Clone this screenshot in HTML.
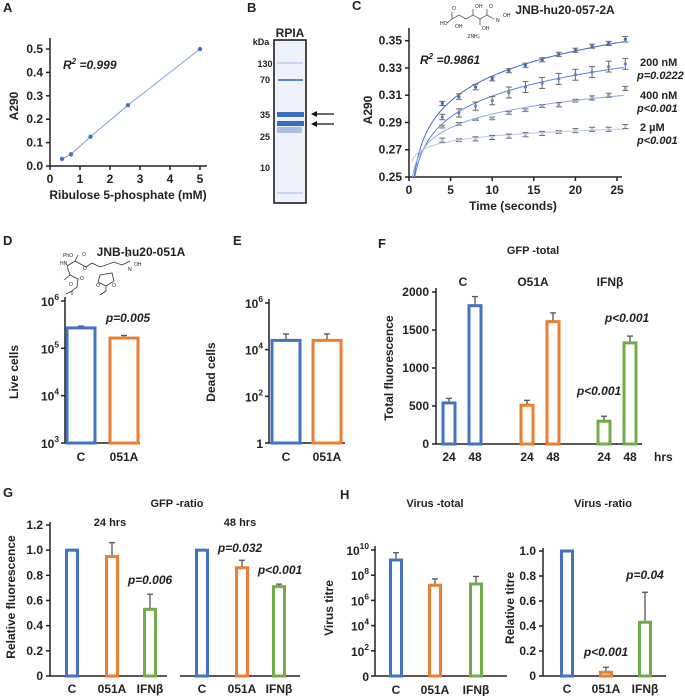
<!DOCTYPE html>
<html><head><meta charset="utf-8">
<style>
html,body{margin:0;padding:0;background:#fff;}
svg{display:block;font-family:"Liberation Sans",Arial,sans-serif;font-weight:bold;}
text{fill:#222;}
</style></head>
<body>
<svg id="fig" width="685" height="696" viewBox="0 0 685 696" xmlns="http://www.w3.org/2000/svg"></svg>
<script>
// ---------- DATA ----------
// Panel A
const aX = [0.4, 0.7, 1.35, 2.6, 5];
const aY = [0.03, 0.05, 0.125, 0.26, 0.5];
const aXTicks = [0,1,2,3,4,5];
const aYTicks = [0,0.1,0.2,0.3,0.4,0.5];
// Panel C
const cTimes = [4,6,8,10,12,14,16,18,20,22,24,26];
const cControl = [0.304,0.309,0.316,0.322,0.328,0.332,0.336,0.340,0.343,0.346,0.348,0.351];
const c200 = [0.294,0.297,0.302,0.306,0.312,0.316,0.319,0.322,0.325,0.327,0.331,0.333];
const c400 = [0.287,0.289,0.292,0.293,0.297,0.299,0.302,0.303,0.306,0.308,0.310,0.315];
const c2u = [0.277,0.277,0.278,0.279,0.280,0.281,0.282,0.283,0.284,0.285,0.285,0.287];
const cErrControl = [0.0015,0.002,0.002,0.0015,0.0015,0.0015,0.0015,0.0015,0.0015,0.0015,0.0015,0.002];
const cErr200 = [0.002,0.003,0.003,0.003,0.004,0.004,0.004,0.004,0.004,0.004,0.004,0.004];
const cErr400 = [0.001,0.001,0.0005,0.001,0.001,0.001,0.001,0.0015,0.001,0.0015,0.0015,0.0015];
const cErr2u = [0.0015,0.001,0.0015,0.0015,0.0015,0.0015,0.0015,0.001,0.0015,0.0015,0.0015,0.0015];
const cXTicks = [0,5,10,15,20,25];
const cYTicks = [0.25,0.27,0.29,0.31,0.33,0.35];
// Panel D
const dCats = ['C','051A'];
const dVals = [2.7e5, 1.65e5];
const dErr = [0.25e5, 0.22e5];
// Panel E
const eCats = ['C','051A'];
const eVals = [2.5e4, 2.5e4];
const eErr = [2.2e4, 2.2e4];
// Panel F
const fGroups = ['C','O51A','IFNβ'];
const fTimes = ['24','48'];
const fVals = [540,1820,510,1610,300,1330];
const fErr = [60,120,65,115,65,90];
const fYTicks = [0,500,1000,1500,2000];
// Panel G
const gCats = ['C','051A','IFNβ'];
const g24 = [1.0,0.95,0.53];
const g24Err = [0,0.11,0.12];
const g48 = [1.0,0.86,0.71];
const g48Err = [0,0.06,0.02];
const gYTicks = [0,0.2,0.4,0.6,0.8,1.0,1.2];
// Panel H
const hCats = ['C','051A','IFNβ'];
const hTotal = [1.6e9,1.6e7,2e7];
const hTotalErr = [4.5e9,3.5e7,6e7];
const hRatio = [1.0,0.03,0.43];
const hRatioErr = [0,0.04,0.24];
const hRatioTicks = [0,0.2,0.4,0.6,0.8,1.0];

const BLUE='#4472C4', ORANGE='#ED7D31', GREEN='#70AD47', GRAY='#555';
const svg = document.getElementById('fig');
const NS='http://www.w3.org/2000/svg';
function mk(tag, attrs, name, parent){
  const e=document.createElementNS(NS,tag);
  for(const k in attrs) e.setAttribute(k,attrs[k]);
  
  
  (parent||svg).appendChild(e);
  return e;
}
function txt(x,y,s,name,opt){
  opt=opt||{};
  const t=mk('text',{x:x,y:y,'font-size':opt.size||12,'text-anchor':opt.anchor||'middle','font-style':opt.italic?'italic':'normal','font-weight':opt.weight||'bold'},name,opt.parent);
  if(opt.rot) t.setAttribute('transform','rotate(-90 '+x+' '+y+')');
  if(opt.sup){t.textContent=s; const ts=mk('tspan',{dy:-6,'font-size':(opt.size||12)*0.7},name+'-exp',t); ts.textContent=opt.sup;}
  else t.textContent=s;
  return t;
}
function line(x1,y1,x2,y2,name,stroke,w){return mk('line',{x1:x1,y1:y1,x2:x2,y2:y2,stroke:stroke||'#222','stroke-width':w||1.5},name);}
function bar(cx,w,ytop,ybase,color,name){
  return mk('rect',{x:cx-w/2,y:ytop,width:w,height:Math.max(0,ybase-ytop),fill:'#fff',stroke:color,'stroke-width':3},name);
}
function errbar(cx,y1,y2,name){
  line(cx,y1,cx,y2,name,GRAY,1.3);
  line(cx-3,y2,cx+3,y2,name+'-cap',GRAY,1.3);
}
function panelLabel(x,y,s){txt(x,y,s,'panel-label-'+s.toLowerCase(),{size:13,anchor:'start'});}

// ---------- PANEL A ----------
panelLabel(3,12,'A');
(function(){
  const X0=50,X1=200,Y0=166,Y1=49;
  const sx=v=>X0+(v/5)*(X1-X0), sy=v=>Y0-(v/0.5)*(Y0-Y1);
  line(X0,Y0,207,Y0,'a-x-axis'); line(X0,Y0,X0,38,'a-y-axis');
  aXTicks.forEach(t=>{line(sx(t),Y0,sx(t),Y0+4,'a-x-tick');txt(sx(t),Y0+17,String(t),'a-x-tick-label',{size:12});});
  aYTicks.forEach(t=>{line(X0-4,sy(t),X0,sy(t),'a-y-tick');txt(X0-7,sy(t)+4,t.toFixed(1),'a-y-tick-label',{size:12,anchor:'end'});});
  let pts=aX.map((x,i)=>sx(x)+','+sy(aY[i])).join(' ');
  mk('polyline',{points:pts,fill:'none',stroke:'#7EA1D8','stroke-width':1},'a-fit-line');
  aX.forEach((x,i)=>mk('circle',{cx:sx(x),cy:sy(aY[i]),r:2.2,fill:BLUE},'a-point'));
  const r=txt(63,69,'R','a-r-squared',{size:12,anchor:'start',italic:true});
  const s1=mk('tspan',{dy:-5,'font-size':8},'a-r-sq-exp',r); s1.textContent='2';
  const s2=mk('tspan',{dy:5},'a-r-sq-val',r); s2.textContent=' =0.999';
  txt(128,199,'Ribulose 5-phosphate (mM)','a-x-axis-title',{size:12});
  txt(18,106,'A290','a-y-axis-title',{size:12,rot:true});
})();

// ---------- PANEL B (gel) ----------
panelLabel(247,12,'B');
(function(){
  txt(290,37,'RPIA','b-lane-title',{size:12});
  txt(261,45,'kDa','b-kda-label',{size:9});
  mk('rect',{x:274,y:40,width:32,height:163,fill:'#EEF3FB',stroke:'#111','stroke-width':1.5},'b-gel');
  [[64,'130'],[80,'70'],[115,'35'],[137,'25'],[168,'10']].forEach(m=>txt(265,m[0]+3,m[1],'b-marker-label',{size:9}));
  mk('rect',{x:277,y:62,width:26,height:2,fill:'#C8D7EF'},'b-band-130');
  mk('rect',{x:278,y:79,width:25,height:2,fill:'#5A86CC'},'b-band-70');
  mk('rect',{x:277,y:112,width:27,height:5,fill:'#3C6CC0'},'b-band-main');
  mk('rect',{x:277,y:121,width:27,height:5,fill:'#3C6CC0'},'b-band-second');
  mk('rect',{x:277,y:127,width:25,height:6,fill:'#A9C0E6'},'b-band-smear');
  mk('rect',{x:277,y:192,width:26,height:2,fill:'#C8D7EF'},'b-band-bottom');
  [114,124].forEach(y=>{line(312,y,334,y,'b-arrow','#111',1.2);mk('path',{d:'M311 '+y+' l6 -3 v6z',fill:'#111'},'b-arrow-head');});
})();

// ---------- PANEL C ----------
panelLabel(352,10,'C');
(function(){
  const X0=409,X1=617,Y0=177,Y1=40.7;
  const sx=v=>X0+(v/25)*(X1-X0), sy=v=>Y0-((v-0.25)/0.1)*(Y0-Y1);
  line(X0,Y0,622,Y0,'c-x-axis'); line(X0,Y0,X0,28,'c-y-axis');
  cXTicks.forEach(t=>{line(sx(t),Y0,sx(t),Y0+4,'c-x-tick');txt(sx(t),Y0+17,String(t),'c-x-tick-label',{size:12});});
  cYTicks.forEach(t=>{line(X0-4,sy(t),X0,sy(t),'c-y-tick');txt(X0-7,sy(t)+4,t.toFixed(2),'c-y-tick-label',{size:12,anchor:'end'});});
  txt(513,210,'Time (seconds)','c-x-axis-title',{size:12});
  txt(372,110,'A290','c-y-axis-title',{size:12,rot:true});
  txt(565,14,'JNB-hu20-057-2A','c-title',{size:12});
  const g=mk('g',{stroke:'#333','stroke-width':0.7,fill:'none'},'c-structure');
  mk('polyline',{points:'452,19 459,15 466,19 473,15 480,19 487,15 494,19'},'c-structure-bond',g);
  line(452,19,452,12,'c-structure-bond','#333',0.7);
  line(452,19,447,23,'c-structure-bond','#333',0.7);
  line(473,15,473,9,'c-structure-bond','#333',0.7);
  line(480,19,480,25,'c-structure-bond','#333',0.7);
  line(487,15,487,9,'c-structure-bond','#333',0.7);
  [['HO',440,25],['OH',455,28],['O',452,10],['OH',475,8],['OH',482,30],['O',489,8],['N',496,22],['OH',503,17]].forEach(a=>txt(a[1],a[2],a[0],'c-structure-atom',{size:5,weight:'normal',anchor:'start'}));
  txt(473,38,'.2NH₃','c-structure-salt',{size:5,weight:'normal'});
  const r=txt(420,64,'R','c-r-squared',{size:12,anchor:'start',italic:true});
  const s1=mk('tspan',{dy:-5,'font-size':8},'c-r-sq-exp',r); s1.textContent='2';
  const s2=mk('tspan',{dy:5},'c-r-sq-val',r); s2.textContent=' =0.9861';
  const series=[[cControl,cErrControl,'#3D6CC0','control'],[c200,cErr200,'#5B86CF','200nm'],[c400,cErr400,'#8FA9DA','400nm'],[c2u,cErr2u,'#B8C8E8','2um']];
  const clip=mk('clipPath',{id:'cclip'},'c-clip');
  mk('rect',{x:X0,y:28,width:220,height:Y0-28},'c-clip-rect',clip);
  series.forEach(s=>{
    const v=s[0],e=s[1];
    const lx=cTimes.map(Math.log); const n=lx.length;
    const mx=lx.reduce((a,b)=>a+b)/n, my=v.reduce((a,b)=>a+b)/n;
    let num=0,den=0; lx.forEach((x,i)=>{num+=(x-mx)*(v[i]-my);den+=(x-mx)*(x-mx);});
    const b=num/den,a=my-b*mx;
    let pts=[]; for(let t=0.3;t<=26.01;t+=0.25) pts.push(sx(t)+','+sy(a+b*Math.log(t)));
    mk('polyline',{points:pts.join(' '),fill:'none',stroke:s[2],'stroke-width':1,'clip-path':'url(#cclip)'},'c-fit-'+s[3]);
    cTimes.forEach((t,i)=>{
      const x=sx(t);
      line(x,sy(v[i]-e[i]),x,sy(v[i]+e[i]),'c-errbar-'+s[3],'#666',1);
      line(x-3,sy(v[i]+e[i]),x+3,sy(v[i]+e[i]),'c-errcap-'+s[3],'#666',1);
      line(x-3,sy(v[i]-e[i]),x+3,sy(v[i]-e[i]),'c-errcap-'+s[3],'#666',1);
      mk('circle',{cx:x,cy:sy(v[i]),r:1.6,fill:s[2]},'c-point-'+s[3]);
    });
  });
  [[640,66,'200 nM',false],[637,79,'p=0.0222',true],[640,99,'400 nM',false],[637,112,'p<0.001',true],[640,131,'2  µM',false],[637,144,'p<0.001',true]].forEach(l=>txt(l[0],l[1],l[2],'c-series-label',{size:11,anchor:'start',italic:l[3]}));
})();

// ---------- log bar helper ----------
function logPanel(pre,X0,Xend,Y0,Ytop,minExp,maxExp,ticks,cats,cx,vals,errs,colors,w){
  const sy=v=>Y0-(Math.log10(v)-minExp)/(maxExp-minExp)*(Y0-Ytop);
  line(X0,Y0,Xend,Y0,pre+'-x-axis'); line(X0,Y0,X0,Ytop-4,pre+'-y-axis');
  ticks.forEach(t=>{line(X0-4,sy(Math.pow(10,t[0])),X0,sy(Math.pow(10,t[0])),pre+'-y-tick');
    if(t[1]) txt(X0-6,sy(Math.pow(10,t[0]))+5,t[1],pre+'-y-tick-label',{size:12,anchor:'end',sup:t[2]});
    else txt(X0-6,sy(Math.pow(10,t[0]))+5,t[2],pre+'-y-tick-label',{size:12,anchor:'end'});});
  cats.forEach((c,i)=>{
    errbar(cx[i],sy(vals[i]),sy(vals[i]+errs[i]),pre+'-error-'+c);
    bar(cx[i],w,sy(vals[i]),Y0,colors[i],pre+'-bar-'+c);
    txt(cx[i],Y0+18,c,pre+'-x-tick-label',{size:12});
  });
}

// ---------- PANEL D ----------
panelLabel(3,245,'D');
txt(141,256,'JNB-hu20-051A','d-title',{size:12});
(function(){
  const dg=mk('g',{transform:'translate(0,-5)'},'d-structure-wrap');
  const g=mk('g',{stroke:'#333','stroke-width':0.8,fill:'none'},'d-structure',dg);
  mk('polyline',{points:'67,271 75,266 78,260'},'d-structure-bond',g);
  mk('polyline',{points:'75,266 86,272 92,268 100,272 106,270 114,267 122,270 130,266'},'d-structure-bond',g);
  mk('polyline',{points:'67,271 70,280 64,285'},'d-structure-bond',g);
  mk('polyline',{points:'70,280 78,284 77,292 72,296 72,300'},'d-structure-bond',g);
  mk('polyline',{points:'72,296 66,299'},'d-structure-bond',g);
  mk('polygon',{points:'100,280 112,278 114,286 106,291 98,287'},'d-structure-ring',g);
  mk('polyline',{points:'106,291 106,296 100,300 M106,296 112,300'},'d-structure-bond',g);
  [['PhO',63,262],['O',82,261],['HN',60,270],['O',83,275],['O',80,285],['O',69,291],['O',96,292],['O',112,292],['O',125,262],['N',128,276],['OH',134,271]].forEach(a=>txt(a[1],a[2],a[0],'d-structure-atom',{size:5,weight:'normal',anchor:'start',parent:dg}));
})();
txt(128,322,'p=0.005','d-p-value',{size:12,italic:true});
txt(18,372,'Live cells','d-y-axis-title',{size:12,rot:true});
logPanel('d',65,140,443,301,3,6,[[3,'10','3'],[4,'10','4'],[5,'10','5'],[6,'10','6']],dCats,[81,124],dVals,dErr,[BLUE,ORANGE],28);

// ---------- PANEL E ----------
panelLabel(233,245,'E');
txt(215,372,'Dead cells','e-y-axis-title',{size:12,rot:true});
logPanel('e',269,345,443,303,0,6,[[0,null,'1'],[2,'10','2'],[4,'10','4'],[6,'10','6']],eCats,[286,327],eVals,eErr,[BLUE,ORANGE],28);

// ---------- PANEL F ----------
panelLabel(378,248,'F');
(function(){
  const X0=436,Y0=444,Y1=292;
  const sy=v=>Y0-v/2000*(Y0-Y1);
  txt(533,254,'GFP -total','f-title',{size:11});
  const gx=[463,533,610]; fGroups.forEach((g,i)=>txt(gx[i],286,g,'f-group-label',{size:12}));
  line(X0,Y0,642,Y0,'f-x-axis'); line(X0,Y0,X0,Y1-4,'f-y-axis');
  fYTicks.forEach(t=>{line(X0-4,sy(t),X0,sy(t),'f-y-tick');txt(X0-7,sy(t)+4,String(t),'f-y-tick-label',{size:12,anchor:'end'});});
  const cx=[449,475,527,553,604,630], cols=[BLUE,BLUE,ORANGE,ORANGE,GREEN,GREEN];
  fVals.forEach((v,i)=>{
    errbar(cx[i],sy(v),sy(v+fErr[i]),'f-error');
    bar(cx[i],12,sy(v),Y0,cols[i],'f-bar-'+fGroups[Math.floor(i/2)]+'-'+fTimes[i%2]);
    txt(cx[i],Y0+17,fTimes[i%2],'f-x-tick-label',{size:12});
  });
  txt(654,461,'hrs','f-x-unit',{size:12,anchor:'start'});
  txt(599,395,'p<0.001','f-p-value-24',{size:12,italic:true});
  txt(627,322,'p<0.001','f-p-value-48',{size:12,italic:true});
  txt(393,368,'Total fluorescence','f-y-axis-title',{size:12,rot:true});
})();

// ---------- PANEL G ----------
panelLabel(3,497,'G');
(function(){
  const Y0=676,Y1=525;
  const sy=v=>Y0-v/1.2*(Y0-Y1);
  txt(177,507,'GFP -ratio','g-title',{size:11});
  line(50,Y0,167,Y0,'g-x-axis-24'); line(50,Y0,50,Y1-3,'g-y-axis');
  line(180,Y0,300,Y0,'g-x-axis-48');
  gYTicks.forEach(t=>{line(46,sy(t),50,sy(t),'g-y-tick');txt(43,sy(t)+4,t===0?'0':t.toFixed(1),'g-y-tick-label',{size:12,anchor:'end'});});
  txt(110,526,'24 hrs','g-subtitle-24',{size:11});
  txt(240,526,'48 hrs','g-subtitle-48',{size:11});
  const cols=[BLUE,ORANGE,GREEN];
  [[g24,g24Err,[72,112,150],'24'],[g48,g48Err,[202,242,279],'48']].forEach(s=>{
    gCats.forEach((c,i)=>{
      if(s[1][i]>0) errbar(s[2][i],sy(s[0][i]),sy(s[0][i]+s[1][i]),'g-error-'+s[3]);
      bar(s[2][i],11,sy(s[0][i]),Y0,cols[i],'g-bar-'+s[3]+'-'+c);
      txt(s[2][i],Y0+17,c,'g-x-tick-label',{size:12});
    });
  });
  txt(150,584,'p=0.006','g-p-value-ifn-24',{size:12,italic:true});
  txt(240,552,'p=0.032','g-p-value-051a-48',{size:12,italic:true});
  txt(280,574,'p<0.001','g-p-value-ifn-48',{size:12,italic:true});
  txt(15,597,'Relative fluorescence','g-y-axis-title',{size:12,rot:true});
})();

// ---------- PANEL H ----------
panelLabel(340,499,'H');
txt(435,507,'Virus -total','h-title-total',{size:11});
txt(603,507,'Virus -ratio','h-title-ratio',{size:11});
txt(333,608,'Virus titre','h-y-axis-title-total',{size:12,rot:true});
logPanel('h',375,507,676,550,0,10,[[0,null,'0'],[2,'10','2'],[4,'10','4'],[6,'10','6'],[8,'10','8'],[10,'10','10']],hCats,[396,435,476],hTotal,hTotalErr,[BLUE,ORANGE,GREEN],11);
(function(){
  const X0=543,Y0=676,Y1=551;
  const sy=v=>Y0-v*(Y0-Y1);
  line(X0,Y0,666,Y0,'h-ratio-x-axis'); line(X0,Y0,X0,Y1-3,'h-ratio-y-axis');
  hRatioTicks.forEach(t=>{line(X0-4,sy(t),X0,sy(t),'h-ratio-y-tick');txt(X0-7,sy(t)+4,t===0?'0':t.toFixed(1),'h-ratio-y-tick-label',{size:12,anchor:'end'});});
  const cx=[567,606,645], cols=[BLUE,ORANGE,GREEN];
  hCats.forEach((c,i)=>{
    if(hRatioErr[i]>0) errbar(cx[i],sy(hRatio[i]),sy(hRatio[i]+hRatioErr[i]),'h-ratio-error-'+c);
    bar(cx[i],11,sy(hRatio[i]),Y0,cols[i],'h-ratio-bar-'+c);
    txt(cx[i],Y0+17,c,'h-ratio-x-tick-label',{size:12});
  });
  txt(606,656,'p<0.001','h-p-value-051a',{size:12,italic:true});
  txt(645,579,'p=0.04','h-p-value-ifn',{size:12,italic:true});
  txt(514,608,'Relative titre','h-y-axis-title-ratio',{size:12,rot:true});
})();
</script>
</body></html>
